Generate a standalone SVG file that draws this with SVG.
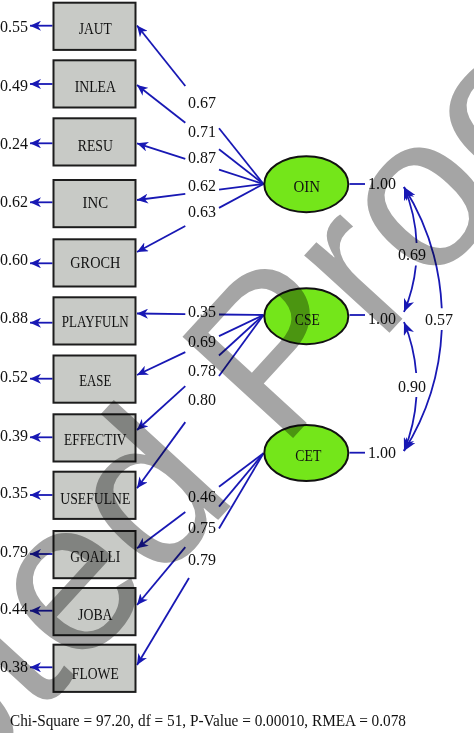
<svg xmlns="http://www.w3.org/2000/svg" width="474" height="733" viewBox="0 0 474 733">
<defs>
<style>
.box{fill:#c8cac6;stroke:#1c1c1c;stroke-width:2}
.lat{fill:#74e61a;stroke:#111;stroke-width:2}
.lbl{font-family:"Liberation Serif",serif;font-size:17.5px;fill:#111;text-anchor:middle}
.num{font-family:"Liberation Serif",serif;font-size:16px;fill:#111}
.con{stroke:#1818b4;stroke-width:1.8;fill:none}
.wm{font-family:"Liberation Sans",Arial,sans-serif;font-size:218px;fill:#a5a5a5;mix-blend-mode:multiply}
</style>
<marker id="ah" viewBox="0 0 11 10" refX="11" refY="5" markerWidth="11" markerHeight="10" markerUnits="userSpaceOnUse" orient="auto-start-reverse"><path d="M0,0 L11,5 L0,10 L3.2,5 Z" fill="#1818b4"/></marker>
<marker id="ah2" viewBox="0 0 13 11" refX="13" refY="5.5" markerWidth="13" markerHeight="11" markerUnits="userSpaceOnUse" orient="auto-start-reverse"><path d="M0,0 L13,5.5 L0,11 L3.8,5.5 Z" fill="#1818b4"/></marker>
</defs>
<rect width="474" height="733" fill="#fff"/>
<g id="connectors">
<line class="con" x1="52.5" y1="25.7" x2="30" y2="25.7" marker-end="url(#ah)"/>
<line class="con" x1="52.5" y1="84" x2="30" y2="84" marker-end="url(#ah)"/>
<line class="con" x1="52.5" y1="143.3" x2="30" y2="143.3" marker-end="url(#ah)"/>
<line class="con" x1="52.5" y1="202.3" x2="30" y2="202.3" marker-end="url(#ah)"/>
<line class="con" x1="52.5" y1="263.3" x2="30" y2="263.3" marker-end="url(#ah)"/>
<line class="con" x1="52.5" y1="322.7" x2="30" y2="322.7" marker-end="url(#ah)"/>
<line class="con" x1="52.5" y1="378.7" x2="30" y2="378.7" marker-end="url(#ah)"/>
<line class="con" x1="52.5" y1="437.3" x2="30" y2="437.3" marker-end="url(#ah)"/>
<line class="con" x1="52.5" y1="495" x2="30" y2="495" marker-end="url(#ah)"/>
<line class="con" x1="52.5" y1="554" x2="30" y2="554" marker-end="url(#ah)"/>
<line class="con" x1="52.5" y1="610.7" x2="30" y2="610.7" marker-end="url(#ah)"/>
<line class="con" x1="52.5" y1="667.3" x2="30" y2="667.3" marker-end="url(#ah)"/>
<line class="con" x1="263.5" y1="184" x2="219" y2="128.2"/>
<line class="con" x1="185.3" y1="86" x2="137" y2="25.5" marker-end="url(#ah)"/>
<line class="con" x1="263.5" y1="184" x2="219" y2="149.2"/>
<line class="con" x1="185.3" y1="122.8" x2="137" y2="85" marker-end="url(#ah)"/>
<line class="con" x1="263.5" y1="184" x2="219" y2="169.7"/>
<line class="con" x1="185.3" y1="158.8" x2="137" y2="143.3" marker-end="url(#ah)"/>
<line class="con" x1="263.5" y1="184" x2="219" y2="189.6"/>
<line class="con" x1="185.3" y1="193.9" x2="137" y2="200" marker-end="url(#ah)"/>
<line class="con" x1="263.5" y1="184" x2="219" y2="207.9"/>
<line class="con" x1="185.3" y1="226" x2="137" y2="252" marker-end="url(#ah)"/>
<line class="con" x1="263.5" y1="315" x2="219" y2="314.5"/>
<line class="con" x1="185.3" y1="314.1" x2="137" y2="313.5" marker-end="url(#ah)"/>
<line class="con" x1="263.5" y1="315" x2="219" y2="336.1"/>
<line class="con" x1="185.3" y1="352.1" x2="137" y2="375" marker-end="url(#ah)"/>
<line class="con" x1="263.5" y1="315" x2="219" y2="355.5"/>
<line class="con" x1="185.3" y1="386.1" x2="137" y2="430" marker-end="url(#ah)"/>
<line class="con" x1="263.5" y1="315" x2="219" y2="376"/>
<line class="con" x1="185.3" y1="422.1" x2="137" y2="488.3" marker-end="url(#ah)"/>
<line class="con" x1="263.5" y1="453.3" x2="219" y2="486.7"/>
<line class="con" x1="185.3" y1="512" x2="137" y2="548.3" marker-end="url(#ah)"/>
<line class="con" x1="263.5" y1="453.3" x2="219" y2="506.7"/>
<line class="con" x1="185.3" y1="547.1" x2="137" y2="605" marker-end="url(#ah)"/>
<line class="con" x1="263.5" y1="453.3" x2="219" y2="528.5"/>
<line class="con" x1="189" y1="578" x2="137" y2="665" marker-end="url(#ah)"/>
<line class="con" x1="349.5" y1="184" x2="365" y2="184"/>
<line class="con" x1="349.5" y1="315" x2="365" y2="315"/>
<line class="con" x1="349.5" y1="452.7" x2="365" y2="452.7"/>
<path class="con" d="M404,187 A160,160 0 0 1 404,312" pathLength="100" stroke-dasharray="45 17.5 100" marker-start="url(#ah2)" marker-end="url(#ah2)"/>
<path class="con" d="M404,322 A170,170 0 0 1 404,451" pathLength="100" stroke-dasharray="39.8 18.1 100" marker-start="url(#ah2)" marker-end="url(#ah2)"/>
<path class="con" d="M404,187 A248.3,248.3 0 0 1 404,451" pathLength="100" stroke-dasharray="46.15 7.8 100" marker-start="url(#ah2)" marker-end="url(#ah2)"/>
</g>
<g id="JAUT"><rect class="box" x="53.5" y="2.7" width="82" height="47.2"/><text class="lbl" x="95.3" y="33.5" textLength="33" lengthAdjust="spacingAndGlyphs">JAUT</text></g>
<g id="INLEA"><rect class="box" x="53.5" y="60.3" width="82" height="47.2"/><text class="lbl" x="95.3" y="91.7" textLength="41" lengthAdjust="spacingAndGlyphs">INLEA</text></g>
<g id="RESU"><rect class="box" x="53.5" y="118.3" width="82" height="47.2"/><text class="lbl" x="95.3" y="150.7" textLength="35" lengthAdjust="spacingAndGlyphs">RESU</text></g>
<g id="INC"><rect class="box" x="53.5" y="180" width="82" height="47.2"/><text class="lbl" x="95.3" y="208.3" textLength="25.5" lengthAdjust="spacingAndGlyphs">INC</text></g>
<g id="GROCH"><rect class="box" x="53.5" y="239.3" width="82" height="47.2"/><text class="lbl" x="95.3" y="268.3" textLength="50" lengthAdjust="spacingAndGlyphs">GROCH</text></g>
<g id="PLAYFULN"><rect class="box" x="53.5" y="297.3" width="82" height="47.2"/><text class="lbl" x="95.3" y="326.7" textLength="67" lengthAdjust="spacingAndGlyphs">PLAYFULN</text></g>
<g id="EASE"><rect class="box" x="53.5" y="355.5" width="82" height="47.2"/><text class="lbl" x="95.3" y="386" textLength="32" lengthAdjust="spacingAndGlyphs">EASE</text></g>
<g id="EFFECTIV"><rect class="box" x="53.5" y="414.3" width="82" height="47.2"/><text class="lbl" x="95.3" y="445" textLength="62.5" lengthAdjust="spacingAndGlyphs">EFFECTIV</text></g>
<g id="USEFULNE"><rect class="box" x="53.5" y="471.7" width="82" height="47.2"/><text class="lbl" x="95.3" y="504" textLength="70" lengthAdjust="spacingAndGlyphs">USEFULNE</text></g>
<g id="GOALLI"><rect class="box" x="53.5" y="531" width="82" height="47.2"/><text class="lbl" x="95.3" y="561.7" textLength="50" lengthAdjust="spacingAndGlyphs">GOALLI</text></g>
<g id="JOBA"><rect class="box" x="53.5" y="588" width="82" height="47.2"/><text class="lbl" x="95.3" y="620" textLength="34.5" lengthAdjust="spacingAndGlyphs">JOBA</text></g>
<g id="FLOWE"><rect class="box" x="53.5" y="644.7" width="82" height="47.2"/><text class="lbl" x="95.3" y="679.3" textLength="47" lengthAdjust="spacingAndGlyphs">FLOWE</text></g>
<g id="OIN"><ellipse class="lat" cx="306.3" cy="184.2" rx="42" ry="28"/><text class="lbl" x="306.7" y="191.7" textLength="26.5" lengthAdjust="spacingAndGlyphs">OIN</text></g>
<g id="CSE"><ellipse class="lat" cx="306.3" cy="316.2" rx="42" ry="28"/><text class="lbl" x="307.3" y="325" textLength="25" lengthAdjust="spacingAndGlyphs">CSE</text></g>
<g id="CET"><ellipse class="lat" cx="306.3" cy="453" rx="42" ry="28"/><text class="lbl" x="308.3" y="461" textLength="26" lengthAdjust="spacingAndGlyphs">CET</text></g>
<g id="labels" class="num">
<text x="28" y="32.3" text-anchor="end">0.55</text>
<text x="28" y="90.7" text-anchor="end">0.49</text>
<text x="28" y="149" text-anchor="end">0.24</text>
<text x="28" y="206.7" text-anchor="end">0.62</text>
<text x="28" y="265" text-anchor="end">0.60</text>
<text x="28" y="323.3" text-anchor="end">0.88</text>
<text x="28" y="382.3" text-anchor="end">0.52</text>
<text x="28" y="440.7" text-anchor="end">0.39</text>
<text x="28" y="498.3" text-anchor="end">0.35</text>
<text x="28" y="556.7" text-anchor="end">0.79</text>
<text x="28" y="614.3" text-anchor="end">0.44</text>
<text x="28" y="671.7" text-anchor="end">0.38</text>
<text x="188" y="108.3">0.67</text>
<text x="188" y="136.7">0.71</text>
<text x="188" y="163.3">0.87</text>
<text x="188" y="190.7">0.62</text>
<text x="188" y="217.3">0.63</text>
<text x="188" y="316.7">0.35</text>
<text x="188" y="346.7">0.69</text>
<text x="188" y="376">0.78</text>
<text x="188" y="405">0.80</text>
<text x="188" y="501.7">0.46</text>
<text x="188" y="533.3">0.75</text>
<text x="188" y="565">0.79</text>
<text x="368" y="189.3">1.00</text>
<text x="368" y="324">1.00</text>
<text x="368" y="457.7">1.00</text>
<text x="398" y="260">0.69</text>
<text x="398" y="391.7">0.90</text>
<text x="425" y="325">0.57</text>
</g>
<text x="10" y="725.7" font-family="'Liberation Serif',serif" font-size="17.5" fill="#111" textLength="396" lengthAdjust="spacingAndGlyphs">Chi-Square = 97.20, df = 51, P-Value = 0.00010, RMEA = 0.078</text>
<text class="wm" transform="translate(-374,1166) rotate(-47.5)">Accepted Proof</text>
</svg>
